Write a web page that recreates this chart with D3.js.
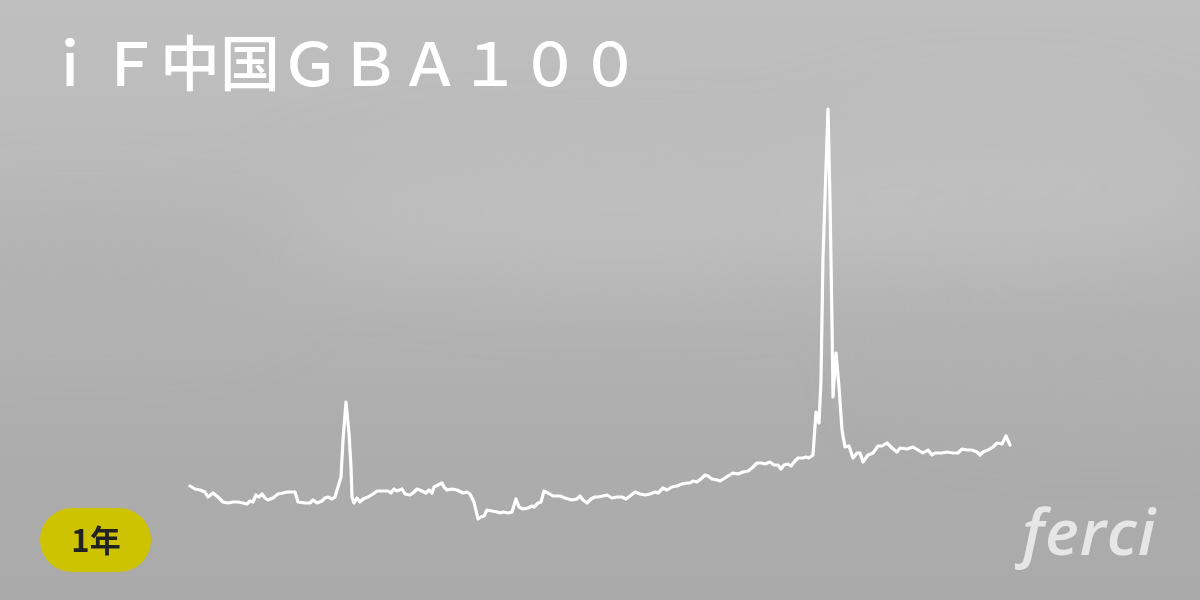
<!DOCTYPE html>
<html>
<head>
<meta charset="utf-8">
<script src="https://cdn.jsdelivr.net/npm/d3@7"></script>
<style>
  html, body { margin: 0; padding: 0; width: 1200px; height: 600px; overflow: hidden; background: #b0b0b0; }
  svg { display: block; }
</style>
</head>
<body>
<div id="chart"></div>
<script>
// ---- data ----
const title = "ｉＦ中国ＧＢＡ１００";
const periodLabel = "1年";
const brand = "ferci";

// trading-day index
const days = [0,5,10,15,18,23,28,33,38,43,48,53,57,60,63,66,69,72,75,78,83,88,93,97,105,108,115,120,123,127,132,135,138,142,145,148,151,153,156,159,161,162,164,167,170,173,178,183,187,193,198,201,204,207,212,215,220,223,227,232,236,239,242,244,248,252,254,257,262,267,273,277,280,284,288,291,294,297,302,307,310,313,318,322,326,329,333,338,342,344,348,351,354,358,363,370,375,382,387,390,393,397,401,405,408,413,417,422,427,432,436,440,445,450,455,460,465,468,473,477,482,487,492,497,500,503,507,512,515,518,522,527,530,535,538,543,548,553,558,562,567,571,575,580,584,588,591,594,598,601,605,608,613,616,619,623,626,629,631,633,638,640,642,643,646,649,652,655,659,663,667,670,673,678,683,688,692,697,702,707,710,717,723,728,733,738,742,745,752,757,763,768,772,777,782,787,790,793,798,803,807,812,816,820];
// index level
const values = [44,41,40,38,33,37,33,28,27,28,28,27,26,29,28,35,33,36,32,30,32,36,37,38,38,28,27,27,30,27,29,32,33,31,33,43,53,90,128,97,63,33,27,32,28,31,33,36,39,39,39,37,41,39,41,36,35,37,41,39,37,40,37,43,45,47,43,40,41,40,37,38,36,28,11,13,14,20,19,18,17,18,17,18,31,23,21,22,24,23,27,28,39,37,34,34,32,30,31,34,30,27,31,33,33,34,35,32,33,33,31,34,38,36,35,36,38,37,42,40,43,44,46,47,47,49,48,52,55,54,51,50,49,52,54,57,56,58,59,62,67,67,66,68,65,65,61,65,66,64,69,72,72,73,72,75,118,107,150,273,421,330,207,133,177,143,100,83,84,72,77,77,68,75,77,84,84,87,82,78,82,81,83,80,77,80,75,77,77,78,77,77,81,80,80,78,75,78,80,83,87,86,94,85];

const data = days.map((d, i) => ({ day: d, value: values[i] }));

// ---- drawing ----
const W = 1200, H = 600;
const svg = d3.select("#chart").append("svg").attr("width", W).attr("height", H);
const defs = svg.append("defs");

const grad = defs.append("linearGradient").attr("id", "bg").attr("x1", 0).attr("y1", 0).attr("x2", 0).attr("y2", 1);
[[0, "#bfbfbf"], [0.25, "#bbbbbb"], [0.5, "#b4b4b4"], [0.72, "#adadad"], [1, "#aaaaaa"]]
  .forEach(([o, c]) => grad.append("stop").attr("offset", o).attr("stop-color", c));

const blur = defs.append("filter").attr("id", "blur").attr("x", "-50%").attr("y", "-50%").attr("width", "200%").attr("height", "200%");
blur.append("feGaussianBlur").attr("stdDeviation", 40);

svg.append("rect").attr("width", W).attr("height", H).attr("fill", "url(#bg)");

const soft = svg.append("g").attr("filter", "url(#blur)");
soft.append("ellipse").attr("cx", 620).attr("cy", 215).attr("rx", 330).attr("ry", 55).attr("fill", "#c1c1c1").attr("opacity", 0.8);
soft.append("ellipse").attr("cx", 1000).attr("cy", 190).attr("rx", 220).attr("ry", 70).attr("fill", "#c0c0c0").attr("opacity", 0.8);
soft.append("ellipse").attr("cx", 80).attr("cy", 270).attr("rx", 200).attr("ry", 50).attr("fill", "#b0b0b0").attr("opacity", 0.7);
soft.append("ellipse").attr("cx", 1100).attr("cy", 360).attr("rx", 220).attr("ry", 50).attr("fill", "#b0b0b0").attr("opacity", 0.6);

const x = d3.scaleLinear().domain([0, 820]).range([190, 1010]);
const y = d3.scaleLinear().domain([11, 421]).range([519, 109]);

const line = d3.line().x(d => x(d.day)).y(d => y(d.value));

svg.append("path")
  .datum(data)
  .attr("d", line)
  .attr("fill", "none")
  .attr("stroke", "#ffffff")
  .attr("stroke-width", 3.2)
  .attr("stroke-linejoin", "round")
  .attr("stroke-linecap", "round");

// title
svg.append("text")
  .attr("x", 40).attr("y", 86)
  .attr("font-family", "'Noto Sans CJK JP', 'Noto Sans', sans-serif")
  .attr("font-size", 60)
  .attr("font-weight", 500)
  .attr("fill", "#ffffff")
  .text(title);

// period badge
svg.append("rect")
  .attr("x", 40).attr("y", 508).attr("width", 111).attr("height", 64)
  .attr("rx", 32).attr("ry", 32)
  .attr("fill", "#cdc300");
svg.append("text")
  .attr("x", 96).attr("y", 552)
  .attr("text-anchor", "middle")
  .attr("font-family", "'Noto Sans CJK JP', sans-serif")
  .attr("font-weight", 700)
  .attr("font-size", 31)
  .attr("fill", "#222222")
  .text(periodLabel);

// brand
svg.append("text")
  .attr("x", 1022).attr("y", 555)
  .attr("font-family", "'Open Sans', sans-serif")
  .attr("font-style", "italic")
  .attr("font-weight", 600)
  .attr("font-size", 64)
  .attr("letter-spacing", 1)
  .attr("fill", "#e6e6e6")
  .text(brand);
</script>
</body>
</html>
